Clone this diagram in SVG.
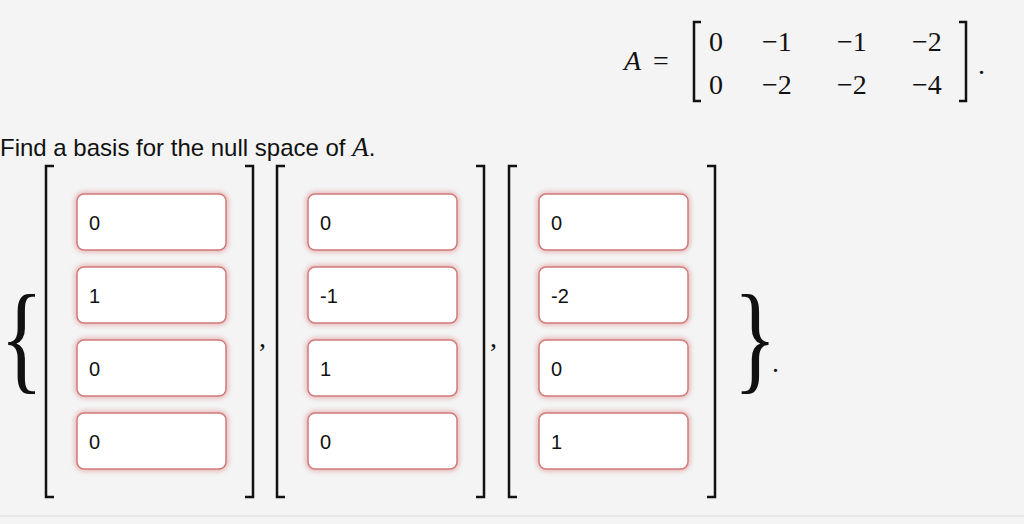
<svg xmlns="http://www.w3.org/2000/svg" width="1024" height="524" viewBox="0 0 1024 524">
<defs>
<filter id="glow" x="-20%" y="-30%" width="140%" height="160%"><feGaussianBlur stdDeviation="2.5"/></filter>
<style>
.m{font-family:"Liberation Serif",serif;font-size:28px;fill:#111}
.t{font-family:"Liberation Sans",sans-serif;font-size:24px;fill:#111}
.v{font-family:"Liberation Sans",sans-serif;font-size:20px;fill:#111}
.box{fill:#fff;stroke:#d27a7a;stroke-width:1.5}
.gl{fill:none;stroke:#e2a9a9;stroke-width:4;filter:url(#glow)}
.br{fill:none;stroke:#111;stroke-width:2.5}
</style>
<g id="cell"><rect class="gl" x="0" y="0" width="149" height="56" rx="7"/><rect class="box" x="0" y="0" width="149" height="56" rx="7"/></g>
</defs>
<rect width="1024" height="524" fill="#f4f4f4"/>
<line x1="0" y1="516" x2="1024" y2="516" stroke="#ddd"/>
<g id="matrix">
<text class="m" x="624" y="70" font-style="italic">A</text>
<text class="m" x="653" y="70">=</text>
<path class="br" d="M701,22 H694 V101 H701"/>
<path class="br" d="M959,22 H966 V101 H959"/>
<text class="m" x="709" y="51">0</text><text class="m" x="762" y="51">−1</text><text class="m" x="837" y="51">−1</text><text class="m" x="912" y="51">−2</text>
<text class="m" x="709" y="94">0</text><text class="m" x="762" y="94">−2</text><text class="m" x="837" y="94">−2</text><text class="m" x="912" y="94">−4</text>
<text class="m" x="978" y="74">.</text>
</g>
<g id="prompt"><text class="t" x="0" y="156">Find a basis for the null space of <tspan font-family="Liberation Serif" font-style="italic" font-size="27">A</tspan>.</text></g>
<g id="set">
<text x="0" y="378" font-family="Liberation Serif" font-size="120" fill="#111" transform="scale(0.75,1)">{</text>
<text x="978" y="378" font-family="Liberation Serif" font-size="120" fill="#111" transform="scale(0.75,1)">}</text>
<text class="m" x="772" y="372">.</text>
<text class="m" x="259" y="347">,</text>
<text class="m" x="490" y="347">,</text>
</g>
<g id="v1">
<path class="br" d="M54,166 H46 V497 H54"/><path class="br" d="M245,166 H253 V497 H245"/>
<use href="#cell" x="77" y="194"/><use href="#cell" x="77" y="267"/><use href="#cell" x="77" y="340"/><use href="#cell" x="77" y="413"/>
<text class="v" x="89" y="230">0</text><text class="v" x="89" y="303">1</text><text class="v" x="89" y="376">0</text><text class="v" x="89" y="449">0</text>
</g>
<g id="v2">
<path class="br" d="M285,166 H277 V497 H285"/><path class="br" d="M476,166 H484 V497 H476"/>
<use href="#cell" x="308" y="194"/><use href="#cell" x="308" y="267"/><use href="#cell" x="308" y="340"/><use href="#cell" x="308" y="413"/>
<text class="v" x="320" y="230">0</text><text class="v" x="320" y="303">-1</text><text class="v" x="320" y="376">1</text><text class="v" x="320" y="449">0</text>
</g>
<g id="v3">
<path class="br" d="M517,166 H509 V497 H517"/><path class="br" d="M707,166 H715 V497 H707"/>
<use href="#cell" x="539" y="194"/><use href="#cell" x="539" y="267"/><use href="#cell" x="539" y="340"/><use href="#cell" x="539" y="413"/>
<text class="v" x="551" y="230">0</text><text class="v" x="551" y="303">-2</text><text class="v" x="551" y="376">0</text><text class="v" x="551" y="449">1</text>
</g>
</svg>
